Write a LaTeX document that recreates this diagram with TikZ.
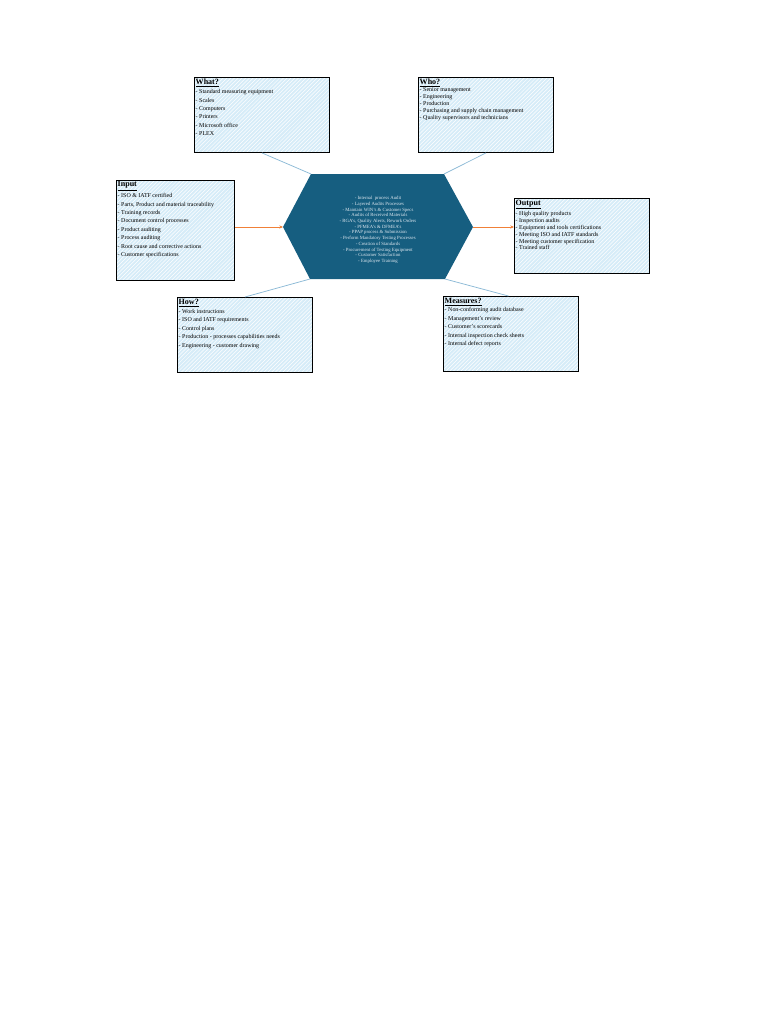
\documentclass[tikz,border=0pt]{standalone}
\usepackage{fontspec}
\setmainfont{Liberation Serif}
\usetikzlibrary{patterns,arrows.meta}

\definecolor{boxfill}{RGB}{214,236,248}
\definecolor{hexfill}{RGB}{22,94,128}
\definecolor{hexletter}{RGB}{222,232,240}
\definecolor{linkblue}{RGB}{140,186,214}
\definecolor{flowrange}{RGB}{240,128,56}

\tikzset{every picture/.style={line width=0.75pt}}
\tikzset{
  infobox/.style={draw=black, line width=0.7pt, preaction={fill=boxfill}, pattern=north east lines, pattern color=white, anchor=north west, minimum width=107.6pt, minimum height=59.8pt, inner sep=0pt},
  boxtext/.style={anchor=north west, inner sep=1pt, align=left, font=\fontsize{4.75}{6.7}\selectfont},
  tighttext/.style={boxtext, font=\fontsize{4.75}{5.5}\selectfont},
  link/.style={draw=linkblue, line width=0.6pt},
  flow/.style={draw=flowrange, line width=0.75pt, -{Stealth[length=3pt,width=2.6pt]}},
}
\newcommand{\boxtitle}[1]{{\fontsize{6.4}{6.4}\selectfont\underline{\textbf{#1}}}}

\begin{document}
\begin{tikzpicture}[x=0.796875pt,y=0.796875pt,yscale=-1,xscale=1]
\useasboundingbox (0,0) rectangle (768,1024);

%Shape: Hexagon
\coordinate (hexL) at (283,227);
\coordinate (hexTL) at (311,174);
\coordinate (hexTR) at (444,174);
\coordinate (hexR) at (473,227);
\coordinate (hexBR) at (445,279);
\coordinate (hexBL) at (310,279);
\fill [hexfill] (hexL) -- (hexTL) -- (hexTR) -- (hexR) -- (hexBR) -- (hexBL) -- cycle ;
\node [align=center, inner sep=0pt, text=hexletter, font=\fontsize{3.8}{4.55}\selectfont] (hexText) at (378,230) {- Internal\ \ process Audit\\- Layered Audits Processes\\- Maintain WIN's \& Customer Specs\\- Audits of Received Materials\\- RGA's, Quality Alerts, Rework Orders\\- PFMEA's \& DFMEA's\\- PPAP process \& Submission\\- Perform Mandatory Testing Processes\\- Creation of Standards\\- Procurement of Testing Equipment\\- Customer Satisfaction\\- Employee Training};

%Shape: Rectangle
\node [infobox] (what) at (194,77) {};
\node [boxtext] (whatText) at (what.north west) {\boxtitle{What?}\\[0.8pt]- Standard measuring equipment\\- Scales\\- Computers\\- Printers\\- Microsoft office\\- PLEX};
%Shape: Rectangle
\node [infobox] (who) at (418,77) {};
\node [tighttext] (whoText) at (who.north west) {\boxtitle{Who?}\\[0.6pt]- Senior management\\- Engineering\\- Production\\- Purchasing and supply chain management\\- Quality supervisors and technicians};
%Shape: Rectangle
\node [infobox, minimum width=94pt, minimum height=79.7pt] (input) at (116,180) {};
\node [boxtext] (inputText) at (input.north west) {\boxtitle{Input}\\[0.8pt]- ISO \& IATF certified\\- Parts, Product and material traceability\\- Training records\\- Document control processes\\- Product auditing\\- Process auditing\\- Root cause and corrective actions\\- Customer specifications};
%Shape: Rectangle
\node [infobox] (output) at (514,198) {};
\node [tighttext] (outputText) at (output.north west) {\boxtitle{Output}\\[0.6pt]- High quality products\\- Inspection audits\\- Equipment and tools certifications\\- Meeting ISO and IATF standards\\- Meeting customer specification\\- Trained staff};
%Shape: Rectangle
\node [infobox] (how) at (177,297) {};
\node [boxtext] (howText) at (how.north west) {\boxtitle{How?}\\[0.8pt]- Work instructions\\- ISO and IATF requirements\\- Control plans\\- Production - processes capabilities needs\\- Engineering - customer drawing};
%Shape: Rectangle
\node [infobox] (measures) at (443,296) {};
\node [boxtext] (measuresText) at (measures.north west) {\boxtitle{Measures?}\\[0.4pt]- Non-conforming audit database\\- Management's review\\- Customer's scorecards\\- Internal inspection check sheets\\- Internal defect reports};

%Straight Lines
\draw [link] (what.south) -- (hexTL) ;
\draw [link] (who.south) -- (hexTR) ;
\draw [link] (hexBL) -- (how.north) ;
\draw [link] (hexBR) -- ([xshift=-2pt]measures.north) ;
%Arrows
\draw [flow] (input.east |- hexL) -- (hexL) ;
\draw [flow] (hexR) -- (output.west |- hexR) ;

\end{tikzpicture}
\end{document}
